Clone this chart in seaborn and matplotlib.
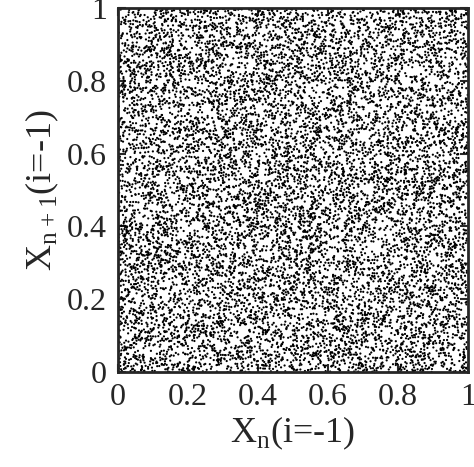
import numpy as np
import pandas as pd
import matplotlib
matplotlib.use("Agg")
import matplotlib.pyplot as plt
import seaborn as sns

# The plotted data is the return map of an iterated chaotic sequence (i=-1).
# Thousands of points cannot be read individually, so the sequence is produced
# by iterating a deterministic chaotic map.
n_points = 12000
seed_value = 0.1234567
x_ticks = [0, 0.2, 0.4, 0.6, 0.8, 1]
tick_labels = ["0", "0.2", "0.4", "0.6", "0.8", "1"]

seq = np.empty(n_points + 1)
seq[0] = seed_value
for k in range(n_points):
    seq[k + 1] = (seq[k] * 997.0 + 0.3183098861837907) % 1.0
df = pd.DataFrame({"xn": seq[:-1], "xn1": seq[1:]})

sns.set_style("ticks")
plt.rcParams["font.family"] = ["Liberation Serif", "DejaVu Serif"]
fig = plt.figure(figsize=(4.74, 4.67), dpi=100)
ax = fig.add_axes([0.249, 0.203, 0.738, 0.78])
sns.scatterplot(data=df, x="xn", y="xn1", s=2.5, color="black", edgecolor="none", ax=ax, linewidth=0)
ax.set_xlim(0, 1)
ax.set_ylim(0, 1)
ax.set_xticks(x_ticks)
ax.set_xticklabels(tick_labels)
ax.set_yticks(x_ticks)
ax.set_yticklabels(tick_labels)
ax.tick_params(direction="in", labelsize=23, length=6, width=1.5, top=True, right=True, pad=8)
for s in ax.spines.values():
    s.set_linewidth(2)
ax.set_xlabel(r"X$_\mathregular{n}$(i=-1)", fontsize=26, labelpad=2)
ax.set_ylabel(r"X$_\mathregular{n+1}$(i=-1)", fontsize=26, labelpad=4)
fig.savefig("out.png", dpi=100)
